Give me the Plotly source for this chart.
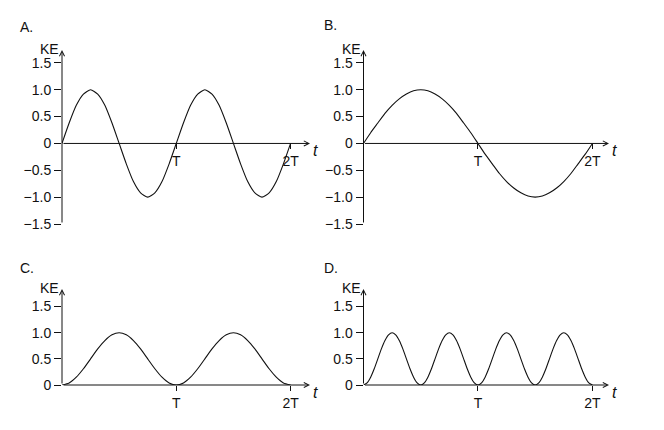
import plotly.graph_objects as go

W, H = 664, 430
OFF = 8  # page body margin offset

# time in units of T
t16 = [k / 16 for k in range(33)]
t32 = [k / 32 for k in range(65)]

# A: KE (two full cycles over 2T)
ke_a = [0, 0.38, 0.71, 0.92, 1.0, 0.92, 0.71, 0.38, 0, -0.38, -0.71, -0.92, -1.0, -0.92, -0.71, -0.38,
        0, 0.38, 0.71, 0.92, 1.0, 0.92, 0.71, 0.38, 0, -0.38, -0.71, -0.92, -1.0, -0.92, -0.71, -0.38, 0]
# B: one full cycle over 2T
ke_b = [0, 0.20, 0.38, 0.56, 0.71, 0.83, 0.92, 0.98, 1.0, 0.98, 0.92, 0.83, 0.71, 0.56, 0.38, 0.20,
        0, -0.20, -0.38, -0.56, -0.71, -0.83, -0.92, -0.98, -1.0, -0.98, -0.92, -0.83, -0.71, -0.56, -0.38, -0.20, 0]
# C: two humps over 2T
ke_c = [0, 0.04, 0.15, 0.31, 0.5, 0.69, 0.85, 0.96, 1.0, 0.96, 0.85, 0.69, 0.5, 0.31, 0.15, 0.04,
        0, 0.04, 0.15, 0.31, 0.5, 0.69, 0.85, 0.96, 1.0, 0.96, 0.85, 0.69, 0.5, 0.31, 0.15, 0.04, 0]
# D: four humps over 2T (finer reading)
ke_d = [0, 0.04, 0.15, 0.31, 0.5, 0.69, 0.85, 0.96, 1.0, 0.96, 0.85, 0.69, 0.5, 0.31, 0.15, 0.04,
        0, 0.04, 0.15, 0.31, 0.5, 0.69, 0.85, 0.96, 1.0, 0.96, 0.85, 0.69, 0.5, 0.31, 0.15, 0.04,
        0, 0.04, 0.15, 0.31, 0.5, 0.69, 0.85, 0.96, 1.0, 0.96, 0.85, 0.69, 0.5, 0.31, 0.15, 0.04,
        0, 0.04, 0.15, 0.31, 0.5, 0.69, 0.85, 0.96, 1.0, 0.96, 0.85, 0.69, 0.5, 0.31, 0.15, 0.04, 0]

panel_labels = ["A.", "B.", "C.", "D."]
x_tickvals = [1, 2]
x_ticktext = ["T", "2T"]
y_full_vals = [-1.5, -1.0, -0.5, 0, 0.5, 1.0, 1.5]
y_full_text = ["\u22121.5", "\u22121.0", "\u22120.5", "0", "0.5", "1.0", "1.5"]
y_half_vals = [0, 0.5, 1.0, 1.5]
y_half_text = ["0", "0.5", "1.0", "1.5"]

FONT = "Liberation Sans, Arial, sans-serif"
FS = 14
INK = "#111111"

# panel geometry in screen pixels
panels = [
    dict(t=t16, data=ke_a, xl=62, xr=310, xmax=2.17, yt=50, yb=224, ymin=-1.5, ymax=1.74, yv=y_full_vals, yt_txt=y_full_text, lab=(18, 27)),
    dict(t=t16, data=ke_b, xl=363.5, xr=609, xmax=2.145, yt=50, yb=224, ymin=-1.5, ymax=1.74, yv=y_full_vals, yt_txt=y_full_text, lab=(322, 25)),
    dict(t=t16, data=ke_c, xl=62, xr=310, xmax=2.17, yt=289, yb=385, ymin=0, ymax=1.835, yv=y_half_vals, yt_txt=y_half_text, lab=(18, 268)),
    dict(t=t32, data=ke_d, xl=363.5, xr=609, xmax=2.145, yt=289, yb=385, ymin=0, ymax=1.835, yv=y_half_vals, yt_txt=y_half_text, lab=(322, 268)),
]


def fx(px):
    return (px - OFF) / W


def fy(py):
    return 1 - (py - OFF) / H


fig = go.Figure()
annotations = []
layout = {}
for i, p in enumerate(panels):
    n = "" if i == 0 else str(i + 1)
    xref, yref = "x" + n, "y" + n
    xmax = p["xmax"]
    fig.add_trace(go.Scatter(x=p["t"], y=p["data"], mode="lines",
                             line=dict(color=INK, width=1.1, shape="spline", smoothing=0.6),
                             xaxis=xref, yaxis=yref, showlegend=False, hoverinfo="skip"))
    dom_x = [fx(p["xl"]), fx(p["xr"])]
    dom_y = [fy(p["yb"]), fy(p["yt"])]
    zero_pos = dom_y[0] + (0 - p["ymin"]) / (p["ymax"] - p["ymin"]) * (dom_y[1] - dom_y[0])
    layout["xaxis" + n] = dict(domain=dom_x, range=[0, xmax], anchor="free", position=zero_pos,
                               tickvals=x_tickvals, ticktext=x_ticktext, ticks="outside", ticklen=5,
                               tickcolor=INK, tickwidth=1, showline=False, showgrid=False, zeroline=False,
                               automargin=False,
                               tickfont=dict(family=FONT, size=FS, color=INK), fixedrange=True)
    layout["yaxis" + n] = dict(domain=dom_y, range=[p["ymin"], p["ymax"]], anchor=xref,
                               tickvals=p["yv"], ticktext=p["yt_txt"], ticks="outside", ticklen=7,
                               tickcolor=INK, tickwidth=1, showline=False, showgrid=False, zeroline=False,
                               automargin=False,
                               tickfont=dict(family=FONT, size=FS, color=INK), fixedrange=True)
    # y axis with arrow
    annotations.append(dict(x=0, y=p["ymax"], ax=0, ay=p["ymin"], xref=xref, yref=yref, axref=xref, ayref=yref,
                            text="", showarrow=True, arrowhead=5, arrowsize=1, arrowwidth=1, arrowcolor=INK, standoff=0))
    # x axis with arrow
    annotations.append(dict(x=xmax, y=0, ax=0, ay=0, xref=xref, yref=yref, axref=xref, ayref=yref,
                            text="", showarrow=True, arrowhead=5, arrowsize=1, arrowwidth=1, arrowcolor=INK, standoff=0))
    # KE label
    annotations.append(dict(x=0, y=p["ymax"], xref=xref, yref=yref, text="KE", showarrow=False,
                            xanchor="right", yanchor="middle", xshift=-1, yshift=1,
                            font=dict(family=FONT, size=FS, color=INK)))
    # t label
    annotations.append(dict(x=xmax, y=0, xref=xref, yref=yref, text="<i>t</i>", showarrow=False,
                            xanchor="left", yanchor="middle", xshift=1, yshift=-7,
                            font=dict(family=FONT, size=FS + 2, color=INK)))
    # panel label
    annotations.append(dict(x=fx(p["lab"][0]), y=fy(p["lab"][1]), xref="paper", yref="paper", text=panel_labels[i],
                            showarrow=False, xanchor="left", yanchor="middle",
                            font=dict(family=FONT, size=FS, color=INK)))

fig.update_layout(**layout)
fig.update_layout(template="none", width=W, height=H, margin=dict(l=0, r=0, t=0, b=0),
                  paper_bgcolor="white", plot_bgcolor="white",
                  annotations=annotations, showlegend=False)
fig.write_html("out.html")
